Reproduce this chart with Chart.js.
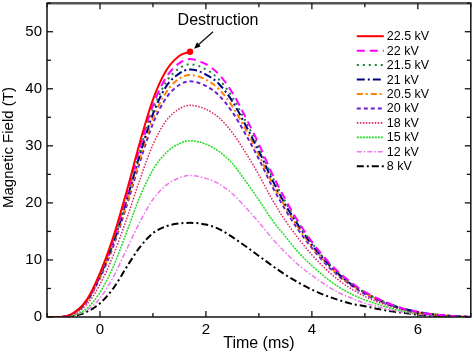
<!DOCTYPE html>
<html><head><meta charset="utf-8">
<script src="https://cdn.jsdelivr.net/npm/chart.js@4.4.0/dist/chart.umd.min.js"></script>
<style>html,body{margin:0;padding:0;background:#fff;}</style>
</head><body>
<canvas id="c" width="474" height="356" style="display:block;width:474px;height:356px"></canvas>
<script>
// ---- data ----
const TIME = [-1, -0.75, -0.5, -0.25, 0, 0.25, 0.5, 0.75, 1, 1.25, 1.5, 1.7, 2, 2.25, 2.5, 2.75, 3, 3.25, 3.5, 3.75, 4, 4.25, 4.5, 4.75, 5, 5.25, 5.5, 5.75, 6, 6.25, 6.5, 6.75, 7];
const SERIES_LABELS = ['22.5 kV', '22 kV', '21.5 kV', '21 kV', '20.5 kV', '20 kV', '18 kV', '15 kV', '12 kV', '8 kV'];
const B_22_5 = [0, 0, 0.7, 3.0, 7.7, 14.0, 21.9, 30.5, 38.1, 43.2, 45.8, 46.5];
const B_22 = [0, 0, 0.7, 2.9, 7.5, 13.6, 21.2, 29.6, 37.1, 42.0, 44.5, 45.2, 44.3, 42.5, 39.3, 35.0, 30.3, 25.1, 20.6, 16.6, 13.2, 10.3, 7.9, 6.0, 4.4, 3.2, 2.2, 1.4, 0.9, 0.5, 0.3, 0.1, 0];
const B_21_5 = [0, 0, 0.7, 2.9, 7.3, 13.3, 20.8, 29.0, 36.3, 41.2, 43.6, 44.3, 43.4, 41.6, 38.5, 34.3, 29.7, 24.6, 20.2, 16.3, 13.0, 10.1, 7.8, 5.8, 4.3, 3.1, 2.2, 1.4, 0.9, 0.5, 0.3, 0.1, 0];
const B_21 = [0, 0, 0.7, 2.8, 7.2, 13.0, 20.4, 28.4, 35.6, 40.4, 42.7, 43.4, 42.5, 40.8, 37.8, 33.6, 29.1, 24.1, 19.7, 16.0, 12.7, 9.9, 7.6, 5.7, 4.3, 3.1, 2.1, 1.4, 0.9, 0.5, 0.3, 0.1, 0];
const B_20_5 = [0, 0, 0.6, 2.8, 7.0, 12.7, 19.9, 27.8, 34.8, 39.4, 41.8, 42.4, 41.6, 39.9, 36.9, 32.9, 28.4, 23.5, 19.3, 15.6, 12.4, 9.7, 7.4, 5.6, 4.2, 3.0, 2.1, 1.4, 0.8, 0.5, 0.3, 0.1, 0];
const B_20 = [0, 0, 0.6, 2.7, 6.8, 12.4, 19.4, 27.1, 33.9, 38.4, 40.7, 41.3, 40.5, 38.8, 35.9, 32.0, 27.7, 22.9, 18.8, 15.2, 12.1, 9.4, 7.2, 5.5, 4.0, 2.9, 2.0, 1.3, 0.8, 0.5, 0.2, 0.1, 0];
const B_18 = [0, 0, 0.5, 2.2, 5.7, 10.8, 17.1, 24.0, 30.2, 34.4, 36.5, 37.1, 36.4, 34.9, 32.3, 28.8, 24.9, 20.6, 16.9, 13.7, 10.9, 8.5, 6.5, 4.9, 3.6, 2.6, 1.8, 1.2, 0.7, 0.4, 0.2, 0.1, 0];
const B_15 = [0, 0, 0.3, 1.5, 4.3, 8.8, 14.8, 21.0, 25.8, 28.8, 30.4, 30.9, 30.3, 29.0, 26.9, 23.8, 20.5, 17.0, 14.1, 11.3, 9.0, 7.0, 5.3, 4.0, 3.0, 2.2, 1.5, 1.0, 0.6, 0.4, 0.2, 0.1, 0];
const B_12 = [0, 0, 0.3, 1.2, 3.3, 7.0, 11.8, 16.6, 20.6, 23.1, 24.4, 24.8, 24.3, 23.3, 21.6, 19.2, 16.6, 13.8, 11.3, 9.1, 7.3, 5.7, 4.3, 3.3, 2.4, 1.8, 1.2, 0.8, 0.5, 0.3, 0.1, 0.05, 0];
const B_8 = [0, 0, 0.2, 0.9, 2.4, 5.0, 8.7, 12.2, 14.7, 15.9, 16.4, 16.5, 16.2, 15.4, 14.0, 12.4, 10.7, 9.0, 7.4, 6.0, 4.8, 3.8, 3.0, 2.3, 1.9, 1.4, 1.0, 0.7, 0.4, 0.2, 0.1, 0.05, 0];
const X_TICKS = [0, 2, 4, 6];
const Y_TICKS = [0, 10, 20, 30, 40, 50];
const X_TITLE = 'Time (ms)';
const Y_TITLE = 'Magnetic Field (T)';
const NOTE = 'Destruction';

// ---- styles ----
const STYLES = [
  {c: '#ff0000', w: 2, d: []},
  {c: '#ff00ff', w: 2, d: [8, 5]},
  {c: '#1f7f3f', w: 2, d: [2, 4]},
  {c: '#000080', w: 2, d: [8, 3, 2, 3]},
  {c: '#ff8000', w: 2, d: [6, 3, 2, 3]},
  {c: '#6a1fd1', w: 2, d: [4, 3]},
  {c: '#e0205a', w: 1.5, d: [1.5, 1.5]},
  {c: '#22dd22', w: 1.5, d: [2, 1]},
  {c: '#ee77ee', w: 1.5, d: [5, 2, 1.5, 2]},
  {c: '#000000', w: 2, d: [7, 3, 2, 3]}
];
const VALUES = [B_22_5, B_22, B_21_5, B_21, B_20_5, B_20, B_18, B_15, B_12, B_8];
const FONT = '"Liberation Sans", Arial, sans-serif';

const datasets = VALUES.map((vals, k) => {
  const pts = vals.map((v, i) => ({x: TIME[i], y: v}));
  const last = pts.length - 1;
  return {
    label: SERIES_LABELS[k],
    data: pts,
    borderColor: STYLES[k].c,
    backgroundColor: STYLES[k].c,
    borderWidth: STYLES[k].w,
    borderDash: STYLES[k].d,
    cubicInterpolationMode: 'monotone',
    fill: false,
    pointRadius: k === 0 ? (ctx => ctx.dataIndex === last ? 3.2 : 0) : 0,
    pointBorderWidth: 0,
    pointHoverRadius: 0
  };
});

const framePlugin = {
  id: 'frame',
  afterDraw(chart) {
    const {ctx, chartArea: a, scales: {x, y}} = chart;
    ctx.save();
    ctx.setLineDash([]);
    ctx.strokeStyle = '#111';
    ctx.lineWidth = 1.5;
    ctx.strokeRect(a.left, a.top, a.right - a.left, a.bottom - a.top);
    ctx.strokeStyle = '#555';
    ctx.lineWidth = 2.5;
    ctx.beginPath(); ctx.moveTo(a.left, a.top); ctx.lineTo(a.right, a.top); ctx.stroke();
    ctx.strokeStyle = '#111';
    ctx.lineWidth = 1.3;
    const line = (x1, y1, x2, y2) => { ctx.beginPath(); ctx.moveTo(x1, y1); ctx.lineTo(x2, y2); ctx.stroke(); };
    for (let v = x.min; v <= x.max; v += 1) {
      const px = x.getPixelForValue(v);
      const L = X_TICKS.includes(v) ? 6 : 4;
      line(px, a.bottom, px, a.bottom - L);
      line(px, a.top, px, a.top + L);
    }
    for (let v = y.min; v <= y.max; v += 5) {
      const py = y.getPixelForValue(v);
      const L = Y_TICKS.includes(v) ? 6 : 4;
      line(a.left, py, a.left + L, py);
      line(a.right, py, a.right - L, py);
    }
    // y title
    ctx.fillStyle = '#000';
    ctx.font = '15px ' + FONT;
    ctx.textAlign = 'center';
    ctx.textBaseline = 'middle';
    ctx.save();
    ctx.translate(8.5, a.top + (a.bottom - a.top) * 0.46);
    ctx.rotate(-Math.PI / 2);
    ctx.fillText(Y_TITLE, 0, 0);
    ctx.restore();
    // annotation
    const red = chart.getDatasetMeta(0).data;
    const p = red[red.length - 1];
    ctx.font = '16px ' + FONT;
    ctx.fillText(NOTE, p.x + 28, p.y - 31);
    const tx = p.x + 4, ty = p.y - 3, sx = p.x + 23, sy = p.y - 20;
    ctx.lineWidth = 1.3;
    line(sx, sy, tx + 3, ty - 2.6);
    const ang = Math.atan2(ty - sy, tx - sx);
    ctx.beginPath();
    ctx.moveTo(tx, ty);
    ctx.lineTo(tx - 7 * Math.cos(ang - 0.4), ty - 7 * Math.sin(ang - 0.4));
    ctx.lineTo(tx - 7 * Math.cos(ang + 0.4), ty - 7 * Math.sin(ang + 0.4));
    ctx.closePath();
    ctx.fillStyle = '#000';
    ctx.fill();
    // legend
    const lx = a.right - 114, ly = a.top + 33, step = 14.45;
    ctx.font = '12.5px ' + FONT;
    ctx.textAlign = 'left';
    chart.data.datasets.forEach((ds, k) => {
      const yy = ly + k * step;
      ctx.strokeStyle = ds.borderColor;
      ctx.lineWidth = Math.max(ds.borderWidth, 1.6);
      ctx.setLineDash(ds.borderDash);
      line(lx, yy, lx + 27, yy);
      ctx.setLineDash([]);
      ctx.fillStyle = '#000';
      ctx.fillText(ds.label, lx + 30, yy + 0.5);
    });
    ctx.restore();
  }
};

new Chart(document.getElementById('c'), {
  type: 'line',
  data: {datasets},
  plugins: [framePlugin],
  options: {
    responsive: false,
    animation: false,
    devicePixelRatio: 1,
    layout: {padding: {top: 0, right: 2, left: 0, bottom: 0}},
    plugins: {legend: {display: false}, tooltip: {enabled: false}},
    events: [],
    scales: {
      x: {
        type: 'linear', min: -1, max: 7,
        afterFit: s => { s.height = 39; s.paddingLeft = 0; s.paddingRight = 0; s.paddingTop = 0; s.paddingBottom = 0; },
        afterBuildTicks: s => { s.ticks = X_TICKS.map(v => ({value: v})); },
        ticks: {font: {size: 15, family: FONT}, color: '#000', padding: 4, maxRotation: 0, callback: v => String(v)},
        grid: {display: false, drawTicks: false},
        border: {display: false},
        title: {display: true, text: X_TITLE, font: {size: 16, family: FONT}, color: '#000', padding: {top: 0, bottom: 3}}
      },
      y: {
        type: 'linear', min: 0, max: 55,
        afterFit: s => { s.width = 47; s.paddingLeft = 0; s.paddingRight = 0; s.paddingTop = 0; s.paddingBottom = 0; },
        afterBuildTicks: s => { s.ticks = Y_TICKS.map(v => ({value: v})); },
        ticks: {font: {size: 15, family: FONT}, color: '#000', padding: 5, callback: v => String(v)},
        grid: {display: false, drawTicks: false},
        border: {display: false}
      }
    }
  }
});
</script>
</body></html>
